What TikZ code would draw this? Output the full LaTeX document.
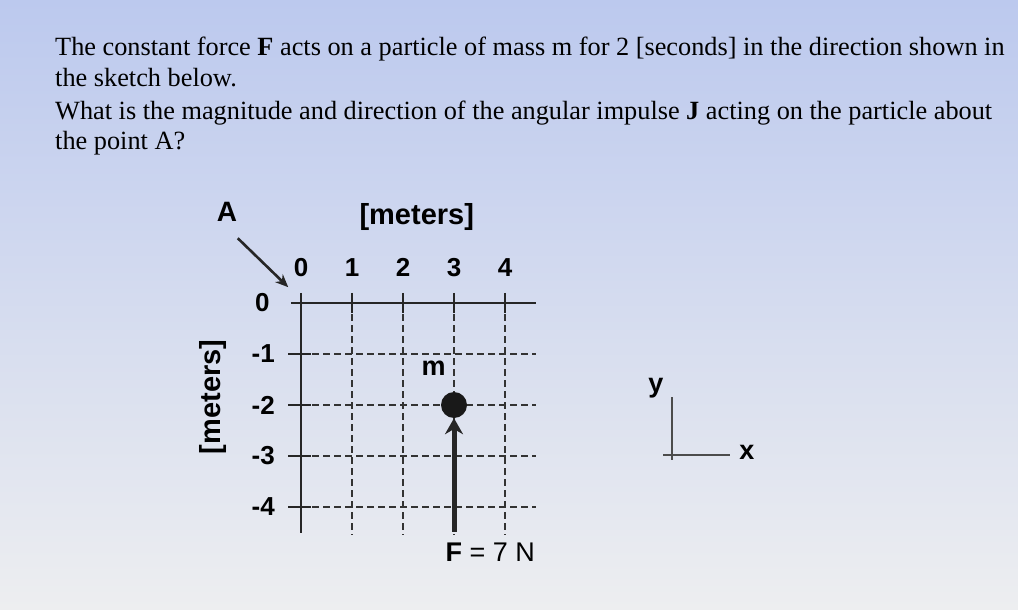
\documentclass[tikz,border=0pt]{standalone}
\usepackage{fontspec}
\setmainfont{Liberation Serif}
\setsansfont{Liberation Sans}
\usepackage{xcolor}
\usetikzlibrary{arrows.meta,positioning,calc}

\definecolor{bgtop}{RGB}{188,201,238}
\definecolor{bgmid}{RGB}{218,224,240}
\definecolor{bgbot}{RGB}{237,238,240}

\begin{document}
\begin{tikzpicture}[x=1pt, y=-1pt,
    txt/.style={anchor=base west, inner sep=0pt, font=\fontsize{26.3}{30}\selectfont},
    lbl/.style={inner sep=1pt, font=\sffamily\bfseries\fontsize{26}{30}\selectfont},
    big/.style={lbl, font=\sffamily\bfseries\fontsize{28}{32}\selectfont},
    axis/.style={line width=1.5pt, black!85},
    gridline/.style={line width=1.2pt, black!80, dash pattern=on 7pt off 4pt},
    dot/.style={circle, fill=black!90, minimum size=26pt, inner sep=0pt},
    arrow/.style={-{Stealth[length=16pt, width=18pt]}, line width=5pt, black!85},
    pointer/.style={-{Stealth[length=13pt, width=11pt]}, line width=2.6pt, black!85}
]
    % background
    \shade[top color=bgtop, middle color=bgmid, bottom color=bgbot] (0,0) rectangle (1018,610);
    \useasboundingbox (0,0) rectangle (1018,610);

    % question text
    \node[txt] (l1) at (55,56) {The constant force \textbf{F} acts on a particle of mass m for 2 [seconds] in the direction shown in};
    \node[txt] (l2) at (55,87) {the sketch below.};
    \node[txt] (l3) at (55,119) {What is the magnitude and direction of the angular impulse \textbf{J} acting on the particle about};
    \node[txt] (l4) at (55,149) {the point A?};

    % grid, 1 m = 51pt
    \begin{scope}[shift={(301pt,-303pt)}, x=51pt, y=51pt]
        \foreach \i in {1,...,4} {
            \draw[gridline] (\i,0) -- (\i,-4.55);
            \draw[axis, line width=1.2pt] (\i,0.2) -- (\i,-0.2);
        }
        \foreach \j in {1,...,4} {
            \draw[gridline] (0,-\j) -- (4.6,-\j);
            \draw[axis, line width=1.2pt] (-0.25,-\j) -- (0.2,-\j);
        }
        \draw[axis] (-0.2,0) -- (4.6,0);
        \draw[axis] (0,0.2) -- (0,-4.5);

        \foreach \i in {0,...,4}
            \node[lbl] (x\i) at (\i,0.69) {\i};
        \node[lbl] (y0) at (-0.76,0) {0};
        \foreach \j in {1,...,4}
            \node[lbl] (y\j) at (-0.74,-\j) {-\j};

        \node[big, font=\sffamily\bfseries\fontsize{29}{32}\selectfont] (xunit) at (2.27,1.69) {[meters]};
        \node[big, font=\sffamily\bfseries\fontsize{29}{32}\selectfont, rotate=90] (yunit) at (-1.73,-1.84) {[meters]};

        % point A
        \coordinate (o) at (0,0);
        \node[big] (A) at (-1.45,1.78) {A};
        \coordinate (p1) at (-1.24,1.27);
        \coordinate (p2) at (-0.25,0.31);
        \draw[pointer] (p1) -- (p2);

        % particle and force
        \node[dot] (m) at (3,-2) {};
        \node[big, font=\sffamily\bfseries\fontsize{27}{30}\selectfont] (mlbl) at (2.6,-1.28) {m};
        \coordinate (ftail) at (3,-4.49);
        \draw[arrow] (ftail) -- (m.south);
        \node[lbl, font=\sffamily\fontsize{27}{30}\selectfont] (flbl) at (3.71,-4.88) {\textbf{F} = 7 N};
    \end{scope}

    % x-y axes
    \coordinate (ay) at (672,397);
    \coordinate (ao) at (672,455);
    \coordinate (ax) at (730,455);
    \draw[line width=1.3pt, black!70] (ay) -- ($(ao)+(0,5)$);
    \draw[line width=1.3pt, black!70] ($(ao)+(-9,0)$) -- (ax);
    \node[big, font=\sffamily\bfseries\fontsize{27}{30}\selectfont] (ylbl) at (656,388) {y};
    \node[big, font=\sffamily\bfseries\fontsize{27}{30}\selectfont] (xlbl) at (747,452) {x};
\end{tikzpicture}
\end{document}
